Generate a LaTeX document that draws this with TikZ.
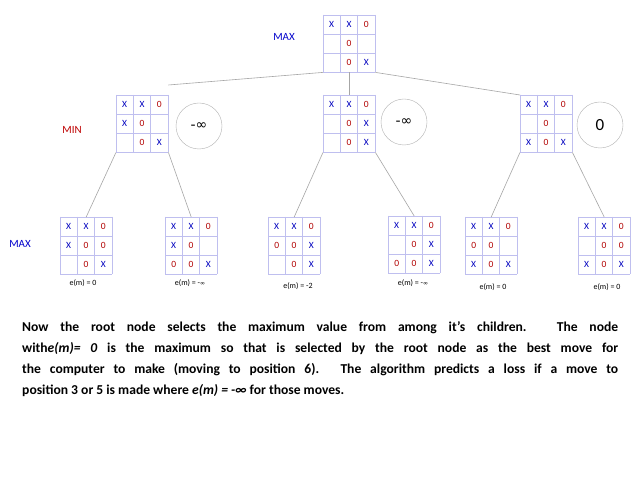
\documentclass[tikz,border=0pt]{standalone}
\usepackage{fontspec}
\setmainfont{Carlito}
\newfontfamily\dvs{DejaVu Sans}
\begin{document}
\begin{tikzpicture}[x=1pt,y=-1pt,
  bx/.style={draw=none,minimum width=52pt,minimum height=57pt,anchor=north west,inner sep=0pt},
  grd/.style={draw=black!25!blue!25!white,line width=0.6pt},
  edge/.style={draw=gray!70,line width=0.6pt},
  val/.style={circle,draw=gray!60,minimum size=46pt,inner sep=0pt,font=\fontsize{17}{17}\selectfont},
  lbl/.style={font=\fontsize{11}{11}\selectfont},
  em/.style={font=\fontsize{8}{8}\selectfont}]
\useasboundingbox (0,0) rectangle (638,478);
\fill[white] (0,0) rectangle (638,478);
\newcommand\brd[4]{%
  \node[bx] (#1) at (#2,#3) {};
  \foreach \k in {0,1,2,3}{
    \draw[grd] ({#2+\k*52/3},#3) -- ++(0,57);
    \draw[grd] (#2,{#3+\k*19}) -- ++(52,0);}
  \foreach \v [count=\i from 0] in {#4}{
    \pgfmathtruncatemacro\c{mod(\i,3)}
    \pgfmathtruncatemacro\r{div(\i,3)}
    \if X\v
      \node[text=blue!75!black,font=\fontsize{9.5}{9}\selectfont] at ({#2+(\c+0.5)*52/3},{#3+(\r+0.5)*19}) {X};
    \else\if O\v
      \node[text=red!70!black,font=\fontsize{9.5}{9}\selectfont] at ({#2+(\c+0.5)*52/3},{#3+(\r+0.5)*19}) {0};
    \fi\fi}}
\brd{root}{323}{15}{X,X,O,-,O,-,-,O,X}
\brd{a}{116}{95}{X,X,O,X,O,-,-,O,X}
\brd{b}{323}{95}{X,X,O,-,O,X,-,O,X}
\brd{c}{520}{95}{X,X,O,-,O,-,X,O,X}
\brd{a1}{60}{217}{X,X,O,X,O,O,-,O,X}
\brd{a2}{165}{217}{X,X,O,X,O,-,O,O,X}
\brd{b1}{268}{217}{X,X,O,O,O,X,-,O,X}
\brd{b2}{388}{216}{X,X,O,-,O,X,O,O,X}
\brd{c1}{465}{217}{X,X,O,O,O,-,X,O,X}
\brd{c2}{578}{217}{X,X,O,-,O,O,X,O,X}
\node[lbl,text=blue!80!black] (m1) at (284,37) {MAX};
\node[lbl,text=red!75!black] (m2) at (72,130) {MIN};
\node[lbl,text=blue!80!black] (m3) at (20,244) {MAX};
\node[val] (va) at (199,126) {\dvs\fontsize{14}{14}\selectfont -∞};
\node[val] (vb) at (404,122) {\dvs\fontsize{14}{14}\selectfont -∞};
\node[val] (vc) at (600,125) {0};
\draw[edge] (root.south west) -- ([yshift=10pt]a.north east);
\draw[edge] (root.south) -- (b.north);
\draw[edge] (root.south east) -- (c.north west);
\draw[edge] (a.south west) -- (a1.north);
\draw[edge] (a.south east) -- (a2.north);
\draw[edge] (b.south west) -- (b1.north);
\draw[edge] (b.south east) -- (b2.north);
\draw[edge] (c.south west) -- (c1.north);
\draw[edge] (c.south east) -- (c2.north);
\node[em] (e1) at (83,283) {e(m) = 0};
\node[em] (e2) at (190,283) {e(m) = -{\dvs\fontsize{6}{6}\selectfont ∞}};
\node[em] (e3) at (298,286) {e(m) = -2};
\node[em] (e4) at (413,283) {e(m) = -{\dvs\fontsize{6}{6}\selectfont ∞}};
\node[em] (e5) at (493,287) {e(m) = 0};
\node[em] (e6) at (607,287) {e(m) = 0};
\node[anchor=north west,inner sep=0pt,text width=596pt,align=justify,font=\fontsize{13.6}{21}\selectfont\bfseries] (txt) at (22,321)
{\hyphenpenalty=10000 Now the root node selects the maximum value from among it’s children. The node\linebreak with\textit{e(m)= 0} is the maximum so that is selected by the root node as the best move for\linebreak the computer to make (moving to position 6). The algorithm predicts a loss if a move to\linebreak position 3 or 5 is made where \textit{e(m) = -∞} for those moves.};
\end{tikzpicture}
\end{document}
